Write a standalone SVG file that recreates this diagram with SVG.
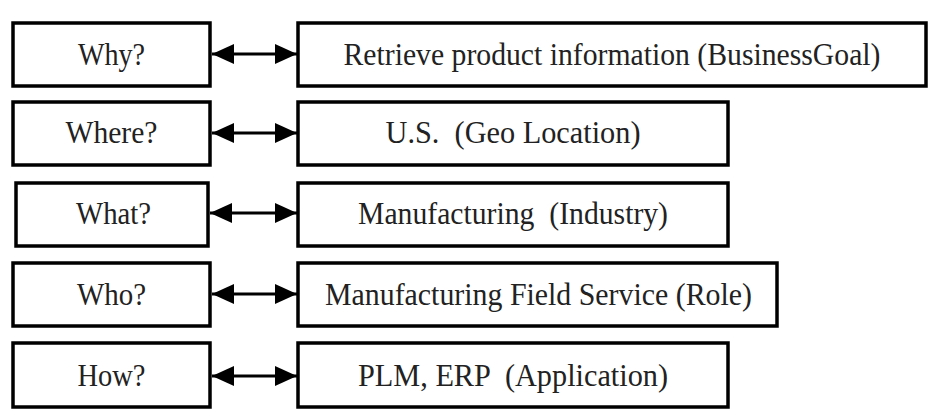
<svg xmlns="http://www.w3.org/2000/svg" width="931" height="417" viewBox="0 0 931 417">
<style>
.box{fill:#fff;stroke:#000;stroke-width:3.5}
.t{font-family:"Liberation Serif","Times New Roman",serif;font-size:32px;fill:#222;text-anchor:middle;white-space:pre}
.c{stroke:#000;stroke-width:3;fill:none;marker-start:url(#ah);marker-end:url(#ah)}
</style>
<defs>
<marker id="ah" viewBox="0 0 22 20" refX="22" refY="10" markerWidth="22" markerHeight="20" markerUnits="userSpaceOnUse" orient="auto-start-reverse">
<path d="M0,0 L22,10 L0,20 Z" fill="#000"/>
</marker>
</defs>
<rect width="931" height="417" fill="#fff"/>
<g id="why">
<rect class="box" x="13" y="23" width="197" height="63"/>
<text class="t" x="111.5" y="65" textLength="67" lengthAdjust="spacingAndGlyphs">Why?</text>
</g>
<g id="goal">
<rect class="box" x="298" y="23" width="628" height="63"/>
<text class="t" x="612" y="65" textLength="537" lengthAdjust="spacingAndGlyphs">Retrieve product information (BusinessGoal)</text>
</g>
<g id="where">
<rect class="box" x="13" y="102" width="197" height="63"/>
<text class="t" x="111.5" y="143" textLength="92" lengthAdjust="spacingAndGlyphs">Where?</text>
</g>
<g id="geo">
<rect class="box" x="298" y="102" width="430" height="63"/>
<text class="t" x="513" y="143" textLength="255" lengthAdjust="spacingAndGlyphs" xml:space="preserve">U.S.  (Geo Location)</text>
</g>
<g id="what">
<rect class="box" x="16" y="183" width="192" height="63"/>
<text class="t" x="113.5" y="224" textLength="75" lengthAdjust="spacingAndGlyphs">What?</text>
</g>
<g id="industry">
<rect class="box" x="298" y="183" width="430" height="63"/>
<text class="t" x="513" y="224" textLength="310" lengthAdjust="spacingAndGlyphs" xml:space="preserve">Manufacturing  (Industry)</text>
</g>
<g id="who">
<rect class="box" x="13" y="263" width="197" height="63"/>
<text class="t" x="111.5" y="305" textLength="69" lengthAdjust="spacingAndGlyphs">Who?</text>
</g>
<g id="role">
<rect class="box" x="298" y="263" width="479" height="63"/>
<text class="t" x="538.5" y="305" textLength="427" lengthAdjust="spacingAndGlyphs">Manufacturing Field Service (Role)</text>
</g>
<g id="how">
<rect class="box" x="13" y="343" width="197" height="64"/>
<text class="t" x="111.5" y="386" textLength="68" lengthAdjust="spacingAndGlyphs">How?</text>
</g>
<g id="application">
<rect class="box" x="298" y="343" width="430" height="64"/>
<text class="t" x="513" y="386" textLength="310" lengthAdjust="spacingAndGlyphs" xml:space="preserve">PLM, ERP  (Application)</text>
</g>
<g id="connectors">
<line class="c" x1="212" y1="54" x2="297" y2="54"/>
<line class="c" x1="212" y1="133" x2="297" y2="133"/>
<line class="c" x1="210" y1="213" x2="297" y2="213"/>
<line class="c" x1="212" y1="294" x2="297" y2="294"/>
<line class="c" x1="212" y1="376" x2="297" y2="376"/>
</g>
</svg>
